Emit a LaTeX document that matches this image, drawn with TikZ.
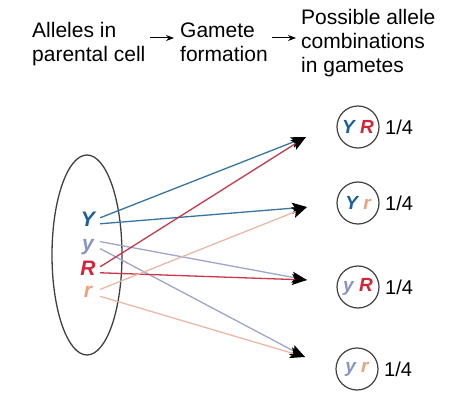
\documentclass[tikz,border=0pt]{standalone}
\usepackage{fontspec}
\setmainfont{Liberation Sans}
\usetikzlibrary{shapes.geometric,arrows.meta}

\definecolor{Ycol}{HTML}{1B5E9E}
\definecolor{ycol}{HTML}{8A93C6}
\definecolor{Rcol}{HTML}{D62436}
\definecolor{rcol}{HTML}{EDA07F}
\definecolor{Yline}{HTML}{3775A0}
\definecolor{yline}{HTML}{9EA5CC}
\definecolor{Rline}{HTML}{C9394A}
\definecolor{rline}{HTML}{ECB8A6}

\begin{document}
\begin{tikzpicture}[x=1pt,y=-1pt,
    head/.style={align=left,anchor=base west,inner sep=0pt,font=\fontsize{21}{24}\selectfont},
    allele/.style={anchor=base,inner sep=0pt,minimum width=24pt,font=\fontsize{21}{24}\selectfont\bfseries\itshape},
    gam/.style={draw=black!75,line width=1.2pt,circle,minimum size=42pt,inner sep=0pt,
        font=\fontsize{19}{22}\selectfont\bfseries\itshape,
        label={[label distance=2pt,font=\fontsize{20}{24}\selectfont]right:1/4}},
    link/.style={line width=1.3pt,-{Stealth[length=15pt,width=11pt,inset=3pt,black]}}
  ]
    \useasboundingbox (0,0) rectangle (474,406);
    % header
    \node[head] at (32,62) (alleles) {Alleles in\\parental cell};
    \node[head] at (180,62) (gamete) {Gamete\\formation};
    \node[head] at (301,73) (possible) {Possible allele\\combinations\\in gametes};
    \draw[line width=1pt,-{Stealth[length=8pt,width=6pt]}] (150,38) -- (174,38);
    \draw[line width=1pt,-{Stealth[length=8pt,width=6pt]}] (272,38) -- (296,38);
    % parental cell
    \node[draw=black!75,line width=1.3pt,ellipse,minimum width=70pt,minimum height=200pt] at (87,255) (cell) {};
    \node[allele,text=Ycol] at (88,227) (Y) {Y};
    \node[allele,text=ycol] at (88,251) (y) {y};
    \node[allele,text=Rcol] at (88,276) (R) {R};
    \node[allele,text=rcol] at (88,298) (r) {r};
    % gametes
    \node[gam] at (358,127) (gYR) {\textcolor{Ycol}{Y} \textcolor{Rcol}{R}};
    \node[gam] at (358,203) (gYr) {\textcolor{Ycol}{Y} \textcolor{rcol}{r}};
    \node[gam] at (358,287) (gyR) {\textcolor{ycol}{y} \textcolor{Rcol}{R}};
    \node[gam] at (357,369) (gyr) {\textcolor{ycol}{y} \textcolor{rcol}{r}};
    \coordinate (tYR) at (306,137);
    \coordinate (tYr) at (307,207);
    \coordinate (tyR) at (307,280);
    \coordinate (tyr) at (305,357);
    % connectors
    \draw[link,Yline] ([yshift=2pt]Y.east) -- (tYR);
    \draw[link,Yline] ([yshift=-4pt]Y.east) -- (tYr);
    \draw[link,yline] ([yshift=6pt]y.east) -- (tyR);
    \draw[link,yline] ([yshift=-1pt]y.east) -- (tyr);
    \draw[link,Rline] ([yshift=2pt]R.east) -- (tYR);
    \draw[link,Rline] ([yshift=-4pt]R.east) -- (tyR);
    \draw[link,rline] ([yshift=3pt]r.east) -- (tYr);
    \draw[link,rline] ([yshift=-4pt]r.east) -- (tyr);
\end{tikzpicture}
\end{document}
